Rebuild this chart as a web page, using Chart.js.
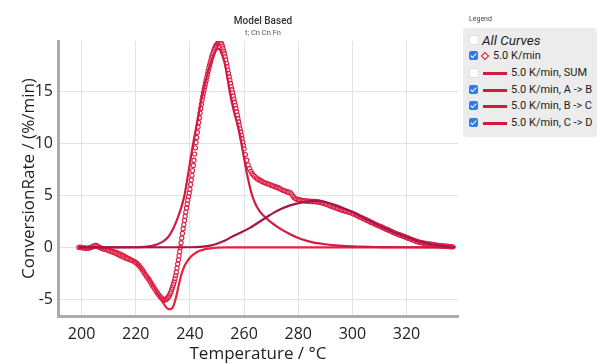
<!DOCTYPE html>
<html>
<head>
<meta charset="utf-8">
<script src="https://cdn.jsdelivr.net/npm/chart.js@4/dist/chart.umd.min.js"></script>
<style>
  html, body { margin: 0; padding: 0; background: #fff; }
  #wrap { position: relative; width: 600px; height: 364px; overflow: hidden; font-family: Roboto, "Open Sans", sans-serif; }
  canvas { position: absolute; left: 0; top: 0; }
  .ttl { position: absolute; left: 163px; width: 200px; text-align: center; color: #333; font-family: Roboto, sans-serif; }
  #t1 { top: 15px; font-size: 10px; font-weight: 500; }
  #t2 { top: 28px; font-size: 7.5px; color: #555; }
  #lgTitle { position: absolute; left: 469px; top: 15px; font-size: 7px; color: #444; }
  #lg { position: absolute; left: 463px; top: 28px; width: 134px; height: 109px; background: #ececec; border-radius: 4px; }
  .row { position: absolute; left: 0; height: 16px; width: 134px; font-family: Roboto, sans-serif; font-size: 11px; color: #222; line-height: 16px; white-space: nowrap; }
  .cb { position: absolute; left: 6px; top: 3px; width: 9px; height: 9px; border-radius: 2px; }
  .on { background: #2f7de1; }
  .on::after { content: ""; position: absolute; left: 3px; top: 1px; width: 2px; height: 5px; border: solid #fff; border-width: 0 1.3px 1.3px 0; transform: rotate(45deg); }
  .off { background: #fff; border: 1px solid #ddd; width: 8px; height: 8px; }
  .ln { position: absolute; left: 20px; top: 7px; width: 24px; height: 3px; background: #d4193f; }
  .dm { position: absolute; left: 19px; top: 5px; width: 4px; height: 4px; border: 1.3px solid #d4193f; transform: rotate(45deg); }
  .tx { position: absolute; left: 48px; top: 0; }
</style>
</head>
<body>
<div id="wrap">
  <canvas id="c" width="600" height="364"></canvas>
  <div class="ttl" id="t1">Model Based</div>
  <div class="ttl" id="t2">t; Cn Cn Fn</div>
  <div id="lgTitle">Legend</div>
  <div id="lg">
    <div class="row" style="top:4px"><span class="cb off"></span><span class="tx" style="left:19px;font-style:italic;font-size:13.5px">All Curves</span></div>
    <div class="row" style="top:20px"><span class="cb on"></span><span class="dm"></span><span class="tx" style="left:30px">5.0 K/min</span></div>
    <div class="row" style="top:37px"><span class="cb off"></span><span class="ln"></span><span class="tx">5.0 K/min, SUM</span></div>
    <div class="row" style="top:53.5px"><span class="cb on"></span><span class="ln"></span><span class="tx">5.0 K/min, A -&gt; B</span></div>
    <div class="row" style="top:70px"><span class="cb on"></span><span class="ln"></span><span class="tx">5.0 K/min, B -&gt; C</span></div>
    <div class="row" style="top:87px"><span class="cb on"></span><span class="ln"></span><span class="tx">5.0 K/min, C -&gt; D</span></div>
  </div>
</div>
<script>
// ---- Data (temperature in °C, conversion rate in %/min) ----
const xTicks = [200, 220, 240, 260, 280, 300, 320];
const yTicks = [-5, 0, 5, 10, 15];

// Measured curve "5.0 K/min" as [temperature, rate]
const measured = [
  [199,0.0],[199.5,0.02],[200,-0.03],[200.5,-0.05],[201,-0.06],[201.5,-0.08],[202,-0.1],[202.5,-0.08],[203,-0.05],[203.5,0.0],
  [204,0.06],[204.5,0.14],[205,0.2],[205.5,0.18],[206,0.1],[206.5,0.02],[207,-0.05],[207.5,-0.1],[208,-0.15],[208.5,-0.18],
  [209,-0.2],[209.5,-0.25],[210,-0.3],[210.5,-0.35],[211,-0.4],[211.5,-0.45],[212,-0.5],[212.5,-0.55],[213,-0.6],[213.5,-0.68],
  [214,-0.75],[214.5,-0.8],[215,-0.85],[215.5,-0.92],[216,-1.0],[216.5,-1.05],[217,-1.1],[217.5,-1.15],[218,-1.2],[218.5,-1.25],
  [219,-1.3],[219.5,-1.37],[220,-1.45],[220.5,-1.57],[221,-1.7],[221.5,-1.85],[222,-2.0],[222.5,-2.2],[223,-2.4],[223.5,-2.6],
  [224,-2.8],[224.5,-2.97],[225,-3.15],[225.5,-3.38],[226,-3.6],[226.5,-3.8],[227,-4.0],[227.5,-4.2],[228,-4.4],[228.5,-4.58],
  [229,-4.75],[229.5,-4.88],[230,-5.0],[230.5,-5.1],
  [231,-5.05],[231.25,-5.0],[231.5,-4.95],[231.75,-4.88],[232,-4.8],[232.25,-4.7],[232.5,-4.6],[232.75,-4.45],
  [233,-4.3],[233.25,-4.1],[233.5,-3.9],[233.75,-3.7],[234,-3.5],[234.25,-3.25],[234.5,-3.0],[234.75,-2.7],
  [235,-2.4],[235.25,-2.0],[235.5,-1.6],[235.75,-1.2],[236,-0.8],[236.25,-0.4],[236.5,0.0],[236.75,0.45],
  [237,0.9],[237.25,1.35],[237.5,1.8],[237.75,2.2],[238,2.6],[238.25,3.0],[238.5,3.4],[238.75,3.8],
  [239,4.2],[239.25,4.55],[239.5,4.9],[239.75,5.25],[240,5.6],[240.25,6.05],[240.5,6.5],[240.75,6.95],
  [241,7.4],[241.25,7.9],[241.5,8.4],[241.75,9.0],[242,9.6],[242.25,10.1],[242.5,10.6],[242.75,11.1],
  [243,11.6],[243.25,12.05],[243.5,12.5],[243.75,12.95],[244,13.4],[244.25,13.8],[244.5,14.2],[244.75,14.55],
  [245,14.9],[245.25,15.2],[245.5,15.5],[245.75,15.8],[246,16.1],[246.25,16.4],[246.5,16.7],[246.75,17.0],
  [247,17.3],[247.25,17.55],[247.5,17.8],[247.75,18.05],[248,18.3],[248.25,18.5],[248.5,18.7],[248.75,18.9],
  [249,19.1],[249.25,19.25],[249.5,19.4],[249.75,19.5],[250,19.6],[250.25,19.65],[250.5,19.7],[250.75,19.73],
  [251,19.75],[251.25,19.74],[251.5,19.7],[251.75,19.6],[252,19.4],[252.25,19.17],[252.5,18.93],[252.75,18.67],
  [253,18.4],[253.25,18.08],[253.5,17.75],[253.75,17.43],[254,17.1],[254.25,16.78],[254.5,16.45],[254.75,16.13],
  [255,15.8],[255.25,15.5],[255.5,15.2],[255.75,14.9],[256,14.6],[256.25,14.3],[256.5,14.0],[256.75,13.7],
  [257,13.4],[257.25,13.08],[257.5,12.75],[257.75,12.43],[258,12.1],[258.25,11.78],[258.5,11.45],[258.75,11.13],
  [259,10.8],[259.25,10.48],[259.5,10.15],[259.75,9.83],[260,9.5],
  [260.5,8.95],[261,8.4],[261.5,7.95],[262,7.6],[262.5,7.33],[263,7.1],[263.5,6.95],[264,6.82],[264.5,6.7],[265,6.6],
  [265.5,6.52],[266,6.45],[266.5,6.38],[267,6.3],[267.5,6.25],[268,6.2],[268.5,6.15],[269,6.1],[269.5,6.05],[270,6.0],
  [270.5,5.95],[271,5.9],[271.5,5.85],[272,5.8],[272.5,5.75],[273,5.7],[273.5,5.62],[274,5.55],[274.5,5.5],[275,5.45],
  [275.5,5.4],[276,5.35],[276.5,5.32],[277,5.28],[277.5,5.15],[278,4.95],[278.5,4.8],[279,4.7],[279.5,4.65],[280,4.6],
  [280.5,4.57],[281,4.55],[281.5,4.52],[282,4.5],[282.5,4.48],[283,4.46],[283.5,4.45],[284,4.45],[284.5,4.44],[285,4.43],
  [285.5,4.42],[286,4.42],[286.5,4.41],[287,4.4],[287.5,4.38],[288,4.35],[288.5,4.32],[289,4.28],[289.5,4.24],[290,4.2],
  [290.5,4.15],[291,4.1],[291.5,4.05],[292,4.0],[292.5,3.95],[293,3.9],[293.5,3.85],[294,3.8],[294.5,3.75],[295,3.7],
  [295.5,3.65],[296,3.6],[296.5,3.57],[297,3.53],[297.5,3.48],[298,3.45],[298.5,3.42],[299,3.38],[299.5,3.33],[300,3.28],
  [300.5,3.22],[301,3.16],[301.5,3.1],[302,3.04],[302.5,2.97],[303,2.9],[303.5,2.85],[304,2.79],[304.5,2.72],[305,2.66],
  [305.5,2.6],[306,2.54],[306.5,2.47],[307,2.4],[307.5,2.35],[308,2.29],[308.5,2.22],[309,2.16],[309.5,2.1],[310,2.05],
  [310.5,2.0],[311,1.95],[311.5,1.88],[312,1.81],[312.5,1.75],[313,1.7],[313.5,1.65],[314,1.59],[314.5,1.52],[315,1.46],
  [315.5,1.4],[316,1.35],[316.5,1.3],[317,1.25],[317.5,1.2],[318,1.15],[318.5,1.1],[319,1.05],[319.5,1.0],[320,0.95],
  [320.5,0.9],[321,0.85],[321.5,0.8],[322,0.75],[322.5,0.7],[323,0.65],[323.5,0.6],[324,0.55],[324.5,0.52],[325,0.48],
  [325.5,0.45],[326,0.42],[326.5,0.4],[327,0.38],[327.5,0.35],[328,0.33],[328.5,0.31],[329,0.3],[329.5,0.28],[330,0.26],
  [330.5,0.24],[331,0.22],[331.5,0.2],[332,0.18],[332.5,0.16],[333,0.15],[333.5,0.14],[334,0.12],[334.5,0.11],[335,0.1],
  [335.5,0.09],[336,0.07],[336.5,0.06],[337,0.05]
];

// Model step A -> B
const abT = [199,205,210,213,216,218,220,222,224,226,228,230,231,232,233,234,235,236,237,238,239,240,241,242,243,244,245,246,248,250,253,338];
const abV = [0,-0.03,-0.15,-0.35,-0.7,-1.0,-1.4,-2.0,-2.7,-3.5,-4.4,-5.3,-5.7,-5.95,-5.95,-5.6,-4.7,-3.5,-2.5,-1.8,-1.35,-1.0,-0.75,-0.55,-0.4,-0.3,-0.22,-0.15,-0.07,-0.03,0,0];

// Model step B -> C
const bcT = [199,220,223,226,228,230,232,234,235,236,237,238,239,240,241,242,243,244,245,246,247,248,249,250,250.5,251,252,253,254,255,256,257,258,259,260,261,262,263,264,265,266,268,270,273,276,280,285,290,295,300,310,320,338];
const bcV = [0,0.01,0.05,0.15,0.3,0.55,1.0,1.9,2.5,3.2,4.0,5.0,6.5,8.1,9.7,11.1,12.5,13.9,15.1,16.2,17.2,18.0,18.7,19.1,19.17,19.1,18.5,17.6,16.1,14.6,13.4,12.4,11.4,10.1,8.6,7.2,6.0,5.0,4.3,3.8,3.4,2.85,2.4,1.85,1.4,0.9,0.5,0.3,0.17,0.09,0.03,0.01,0];

// Model step C -> D
const cdT = [199,240,244,247,250,253,256,259,262,265,268,271,274,277,280,283,286,288,291,294,297,300,303,306,309,312,315,318,321,324,327,330,333,336,338];
const cdV = [0,0.01,0.05,0.15,0.35,0.65,1.1,1.45,1.85,2.35,2.85,3.35,3.75,4.05,4.25,4.42,4.48,4.45,4.3,4.05,3.75,3.4,3.0,2.6,2.2,1.85,1.5,1.2,0.9,0.62,0.4,0.25,0.14,0.08,0.05];

const pts = (xs, ys) => xs.map((x, i) => ({ x: x, y: ys[i] }));

new Chart(document.getElementById('c'), {
  type: 'scatter',
  data: {
    datasets: [
      { label: '5.0 K/min', data: measured.map(p => ({ x: p[0], y: p[1] })), showLine: false, pointStyle: 'circle', pointRadius: 2.1,
        borderWidth: 1.1, pointBorderColor: '#d81f45', pointBackgroundColor: 'rgba(255,255,255,0.5)', order: 4 },
      { label: '5.0 K/min, A -> B', data: pts(abT, abV), showLine: true, borderColor: '#e8213d', borderWidth: 2.2,
        pointRadius: 0, cubicInterpolationMode: 'monotone', order: 3 },
      { label: '5.0 K/min, B -> C', data: pts(bcT, bcV), showLine: true, borderColor: '#d21a43', borderWidth: 2.2,
        pointRadius: 0, cubicInterpolationMode: 'monotone', order: 2 },
      { label: '5.0 K/min, C -> D', data: pts(cdT, cdV), showLine: true, borderColor: '#a3164a', borderWidth: 2.2,
        pointRadius: 0, cubicInterpolationMode: 'monotone', order: 1 }
    ]
  },
  options: {
    responsive: false,
    animation: false,
    layout: { padding: { left: 0, right: 142, top: 41, bottom: 0 } },
    plugins: { legend: { display: false }, tooltip: { enabled: false }, title: { display: false } },
    scales: {
      x: {
        type: 'linear', min: 191.3, max: 339,
        afterFit: (s) => { s.height = 48; },
        afterBuildTicks: (s) => { s.ticks = xTicks.map(v => ({ value: v })); },
        grid: { color: '#e2e2e2', lineWidth: 1, drawTicks: false },
        border: { color: '#ababab', width: 3 },
        ticks: { padding: 9, color: '#222', font: { family: 'Open Sans', size: 16 } },
        title: { display: true, text: 'Temperature / °C', color: '#222', padding: { top: 0, bottom: 0 },
          font: { family: 'Open Sans', size: 17 } }
      },
      y: {
        type: 'linear', min: -6.62, max: 19.9,
        afterFit: (s) => { s.width = 58; },
        afterBuildTicks: (s) => { s.ticks = yTicks.map(v => ({ value: v })); },
        grid: { color: '#e2e2e2', lineWidth: 1, drawTicks: false },
        border: { color: '#ababab', width: 3 },
        ticks: { padding: 5, color: '#222', font: { family: 'Open Sans', size: 16 } },
        title: { display: true, text: 'ConversionRate / (%/min)', color: '#222', padding: { top: 19, bottom: 0 },
          font: { family: 'Open Sans', size: 17 } }
      }
    }
  }
});
</script>
</body>
</html>
